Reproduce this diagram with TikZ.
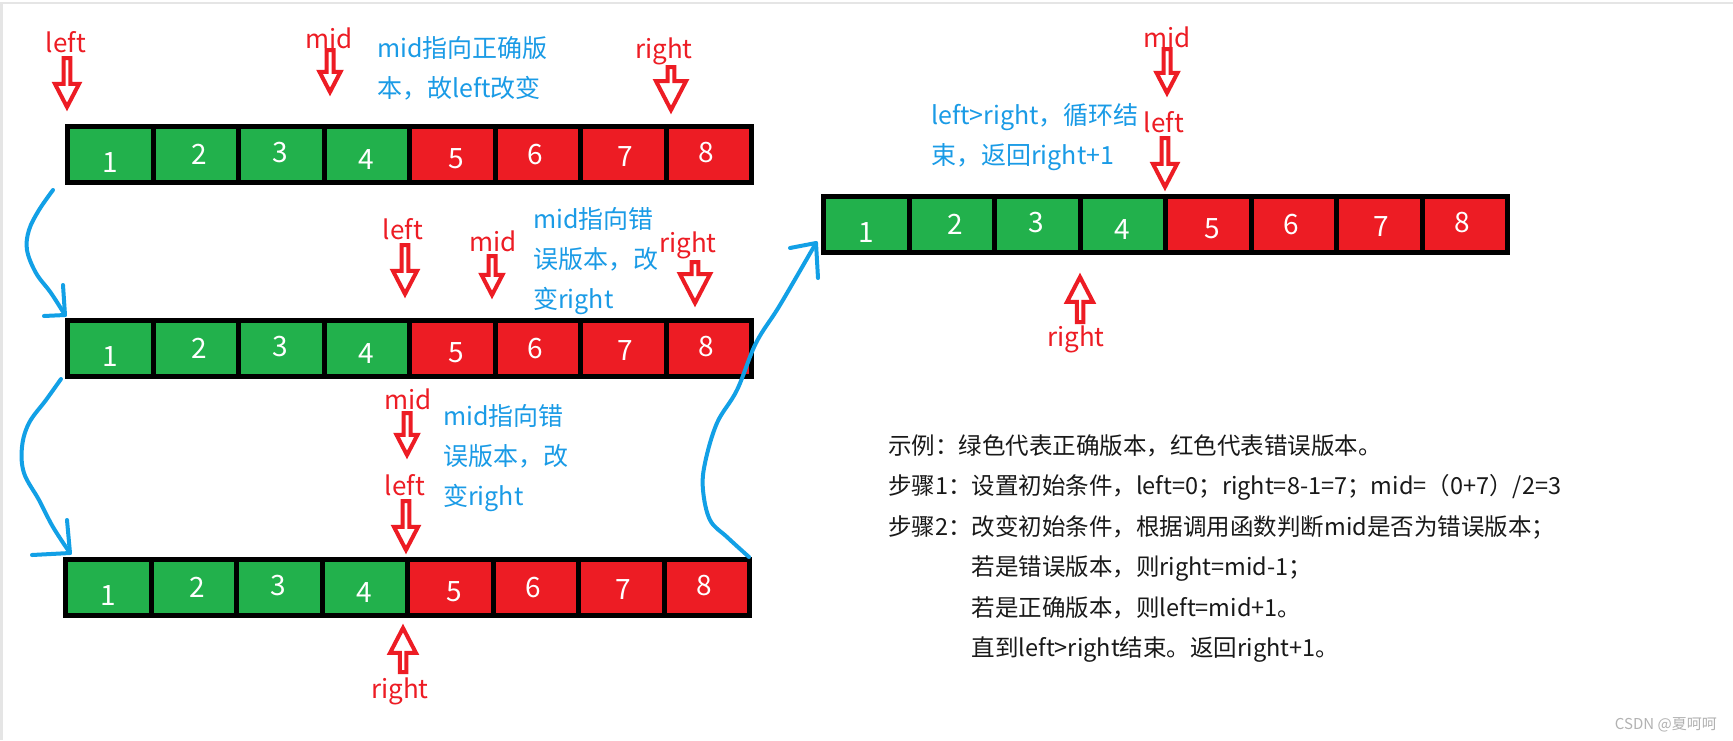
\documentclass[tikz,border=0pt]{standalone}
\usepackage{fontspec}
\setmainfont{Noto Sans CJK SC}
\usetikzlibrary{shapes.arrows}

\definecolor{paintgreen}{HTML}{22B14C}
\definecolor{paintred}{HTML}{ED1C24}
\definecolor{paintblue}{HTML}{12A0E6}
\definecolor{noteblue}{HTML}{1A9BE6}

\tikzset{
  cell/.style={draw=black, line width=5pt, minimum width=85.5pt, minimum height=56pt, inner sep=0pt, outer sep=0pt},
  digit/.style={text=white, font=\fontsize{28}{28}\selectfont, inner sep=0pt},
  tag/.style={text=paintred, font=\fontsize{26}{30}\selectfont, inner sep=0pt},
  notetext/.style={text=noteblue, font=\fontsize{25}{40}\selectfont, align=left, anchor=north west, inner sep=0pt},
  steptext/.style={text=black!90, font=\fontsize{23.5}{40.5}\selectfont, align=left, anchor=north west, inner sep=0pt},
  ptr/.style={shape=single arrow, draw=paintred, fill=white, line width=4pt, inner sep=0pt, outer sep=0pt,
    minimum width=24pt, single arrow head extend=5pt, single arrow tip angle=55, anchor=tip},
  ptrdown/.style={ptr, shape border rotate=270},
  ptrup/.style={ptr, shape border rotate=90},
  flow/.style={paintblue, line width=4pt, line cap=round, line join=round},
}

\begin{document}
\begin{tikzpicture}[x=1pt, y=-1pt]
  \fill[white] (0,0) rectangle (1733,740);
  \useasboundingbox (0,0) rectangle (1733,740);
  \draw[gray!20, line width=2pt] (0,3) -- (1733,3);
  \draw[gray!20, line width=3pt] (1.5,3) -- (1.5,740);

  % the four arrays of versions
  \foreach \a/\xl/\yt in {A1/65/124, A2/65/318, A3/63/557, A4/821/194} {
    \foreach \i/\c in {1/paintgreen,2/paintgreen,3/paintgreen,4/paintgreen,5/paintred,6/paintred,7/paintred,8/paintred}
      \node[cell, fill=\c] (\a-\i) at ({\xl+2.5+(\i-0.5)*85.5}, \yt+30.5) {};
    \foreach \i/\dx/\dy in {1/0/8, 2/4/0, 3/-1/-2, 4/0/5, 5/4/4, 6/-2/0, 7/2/2, 8/-2/-2}
      \node[digit] (\a-n\i) at ([shift={(\dx,\dy)}]\a-\i.center) {\i};
  }

  % first array
  \node[tag] (A1-left) at (66,42) {left};
  \node[ptrdown, minimum height=49pt] (A1-lp) at (67,107) {};
  \node[tag] (A1-mid) at (329,38) {mid};
  \node[ptrdown, minimum height=42pt, minimum width=21pt, single arrow head extend=4pt] (A1-mp) at (330,92) {};
  \node[tag] (A1-right) at (664,51) {right};
  \node[ptrdown, minimum height=43pt, minimum width=30pt, single arrow head extend=7pt] (A1-rp) at (671,110) {};
  \node[notetext] (A1-note) at (377,36) {mid指向正确版\\本，故left改变};

  % second array
  \node[tag] (A2-left) at (403,229) {left};
  \node[ptrdown, minimum height=49pt] (A2-lp) at (405,294) {};
  \node[tag] (A2-mid) at (493,241) {mid};
  \node[ptrdown, minimum height=39pt, minimum width=21pt, single arrow head extend=4pt] (A2-mp) at (492,295) {};
  \node[tag] (A2-right) at (688,245) {right};
  \node[ptrdown, minimum height=41pt, minimum width=30pt, single arrow head extend=7pt] (A2-rp) at (695,303) {};
  \node[notetext] (A2-note) at (533,207) {mid指向错\\误版本，改\\变right};

  % third array
  \node[tag] (A3-mid) at (408,399) {mid};
  \node[ptrdown, minimum height=42pt, minimum width=21pt, single arrow head extend=4pt] (A3-mp) at (407,455) {};
  \node[tag] (A3-left) at (405,485) {left};
  \node[ptrdown, minimum height=49pt] (A3-lp) at (406,550) {};
  \node[ptrup, minimum height=44pt, minimum width=26pt, single arrow head extend=6pt] (A3-rp) at (403,628) {};
  \node[tag] (A3-right) at (400,691) {right};
  \node[notetext] (A3-note) at (443,404) {mid指向错\\误版本，改\\变right};

  % fourth array
  \node[tag] (A4-mid) at (1167,37) {mid};
  \node[ptrdown, minimum height=44pt, minimum width=21pt, single arrow head extend=4pt] (A4-mp) at (1167,93) {};
  \node[tag] (A4-left) at (1164,122) {left};
  \node[ptrdown, minimum height=49pt] (A4-lp) at (1165,187) {};
  \node[ptrup, minimum height=45pt, minimum width=26pt, single arrow head extend=6pt] (A4-rp) at (1080,277) {};
  \node[tag] (A4-right) at (1076,339) {right};
  \node[notetext] (A4-note) at (931,103) {left>right，循环结\\束，返回right+1};

  % explanation
  \node[steptext] (legend) at (888,434) {示例：绿色代表正确版本，红色代表错误版本。\\
    步骤1：设置初始条件，left=0；right=8-1=7；mid=（0+7）/2=3\\
    步骤2：改变初始条件，根据调用函数判断mid是否为错误版本；\\
    \phantom{步骤2：}若是错误版本，则right=mid-1；\\
    \phantom{步骤2：}若是正确版本，则left=mid+1。\\
    \phantom{步骤2：}直到left>right结束。返回right+1。};
  \node[text=gray!60, font=\fontsize{15}{15}\selectfont, anchor=east, inner sep=0pt] (mark) at (1717,725) {CSDN @夏呵呵};

  % blue flow curves
  \coordinate (c1s) at (53,190);
  \coordinate (c1t) at (65,315);
  \draw[flow] plot[smooth, tension=0.6] coordinates {(c1s) (39,210) (29,230) (27,250) (36,273) (51,293) (c1t)};
  \draw[flow] (63,285) -- (c1t) -- (44,316);
  \coordinate (c2s) at (61,379);
  \coordinate (c2t) at (70,553);
  \draw[flow] plot[smooth, tension=0.6] coordinates {(c2s) (46,400) (29,423) (22,447) (24,473) (39,500) (53,527) (c2t)};
  \draw[flow] (67,520) -- (c2t) -- (32,555);
  \coordinate (c3s) at (749,557);
  \coordinate (c3t) at (816,243);
  \draw[flow] plot[smooth, tension=0.6] coordinates {(c3s) (727,537) (710,520) (703,490) (705,463) (717,423) (737,390) (756,343) (780,305) (c3t)};
  \draw[flow] (818,278) -- (c3t) -- (790,248);
\end{tikzpicture}
\end{document}
